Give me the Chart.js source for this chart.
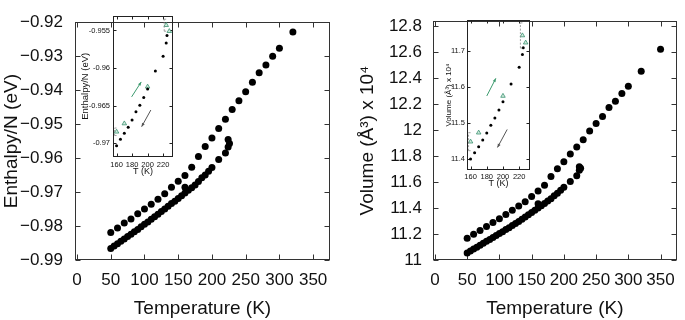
<!DOCTYPE html>
<html>
<head>
<meta charset="utf-8">
<script src="https://cdn.jsdelivr.net/npm/chart.js@4.4.1/dist/chart.umd.min.js"></script>
<style>
  body { margin: 0; background: #fff; }
  #wrap { position: relative; width: 685px; height: 320px; overflow: hidden; }
  canvas { position: absolute; }
</style>
</head>
<body>
<div id="wrap">
  <canvas id="hMain" width="345" height="320" style="left:0;top:0"></canvas>
  <canvas id="vMain" width="340" height="320" style="left:345px;top:0"></canvas>
  <canvas id="hInset" width="100" height="170" style="left:78px;top:8px"></canvas>
  <canvas id="vInset" width="95" height="178" style="left:440px;top:12px"></canvas>
</div>
<script>
// ---- data ----
const tempUp = [50,60,70,80,90,100,110,120,130,140,150,160,170,180,190,200,210,220,230,240,250,260,270,280,290,300,320];
const enthUp = [-0.9819,-0.9806,-0.9791,-0.9779,-0.9764,-0.9750,-0.9736,-0.9721,-0.9705,-0.9686,-0.9668,-0.9651,-0.9627,-0.9595,-0.9566,-0.9541,-0.9513,-0.9486,-0.9457,-0.9431,-0.9405,-0.9377,-0.9349,-0.9326,-0.9300,-0.9277,-0.9229];

const tempDown = [50,55,60,65,70,75,80,85,90,95,100,105,110,115,120,125,130,135,140,145,150,155,160,165,170,175,180,185,190,195,200,210,220,224,226,224];
const enthDown = [-0.9866,-0.9859,-0.9852,-0.9845,-0.9838,-0.9831,-0.9824,-0.9817,-0.9810,-0.9802,-0.9795,-0.9788,-0.9780,-0.9773,-0.9765,-0.9757,-0.9750,-0.9742,-0.9734,-0.9727,-0.9719,-0.9711,-0.9703,-0.9695,-0.9687,-0.9679,-0.9669,-0.9658,-0.9650,-0.9639,-0.9628,-0.9604,-0.9585,-0.9567,-0.9557,-0.9545];

const tempExtra = [160];
const enthExtra = [-0.9686];
const volExtra = [11.432];

const tempUpV = [50,60,70,80,90,100,110,120,130,140,150,160,170,180,190,200,210,220,230,240,250,260,270,280,290,300,320,350];
const volUp = [11.168,11.198,11.227,11.257,11.289,11.318,11.350,11.383,11.415,11.449,11.489,11.531,11.575,11.642,11.701,11.755,11.815,11.870,11.926,11.993,12.050,12.104,12.173,12.222,12.281,12.336,12.452,12.622];
const volDown = [11.054,11.069,11.084,11.099,11.114,11.129,11.144,11.158,11.173,11.188,11.203,11.218,11.234,11.249,11.265,11.281,11.297,11.314,11.331,11.348,11.365,11.382,11.400,11.417,11.434,11.453,11.472,11.494,11.514,11.536,11.559,11.604,11.648,11.690,11.705,11.718];

// insets
const insetT = [160,165,170,175,180,185,190,195,200,210,220,224,225];
const enthIn = [-0.97035,-0.9695,-0.9687,-0.9679,-0.96694,-0.96584,-0.96495,-0.96393,-0.96279,-0.9604,-0.95845,-0.95668,-0.95566];
const volIn = [11.400,11.4175,11.434,11.453,11.472,11.494,11.514,11.536,11.559,11.608,11.655,11.690,11.709];
const triT = [160,170,200,224,228];
const enthTri = [-0.9685,-0.9674,-0.9625,-0.9543,-0.9551];
const enthTriErr = [0.0005,0,0,0.0008,0];
const volTri = [11.448,11.473,11.575,11.743,11.723];
const volTriErr = [0.025,0,0,0.035,0];

// arrows: [x0, y0, x1, y1] with the head at the second point
const enthArrowUp = [179.4,-0.96385,191.8,-0.96186];
const enthArrowDown = [204.2,-0.9656,192.3,-0.96782];
const volArrowUp = [180,11.575,191.2,11.624];
const volArrowDown = [205.2,11.482,193.2,11.432];

const mainTicksX = [0,50,100,150,200,250,300,350];
const enthTicksY = [-0.99,-0.98,-0.97,-0.96,-0.95,-0.94,-0.93,-0.92];
const volTicksY = [11,11.2,11.4,11.6,11.8,12,12.2,12.4,12.6,12.8];
const insetTicksX = [160,180,200,220];
const enthInTicksY = [-0.97,-0.965,-0.96,-0.955];
const volInTicksY = [11.4,11.5,11.6,11.7];

// ---- drawing ----
const SANS = "'Liberation Sans', Arial, sans-serif";
let NARROW = "'Liberation Sans Narrow', 'Liberation Sans', Arial, sans-serif";
// the tick labels in the figure are condensed; fall back to a smaller size if no narrow face
const probe = document.createElement('canvas').getContext('2d');
probe.font = "40px 'Liberation Sans Narrow', monospace";
const wN = probe.measureText('0.92350').width;
probe.font = "40px monospace";
const hasNarrow = Math.abs(wN - probe.measureText('0.92350').width) > 1;
const mainTick = hasNarrow ? 19 : 17;
const insetTick = hasNarrow ? 8.5 : 7.5;
Chart.defaults.color = '#111';

const pts = (xs, ys) => xs.map((x, i) => ({x: x, y: ys[i]}));
const minus = v => String(v).replace('-', '\u2212');

const framePlugin = {
  id: 'frame',
  beforeDatasetsDraw(chart, args, o) {
    const {ctx, chartArea: a, scales: {x, y}} = chart;
    const L = Math.round(a.left) + 0.5, R = Math.round(a.right) - 0.5;
    const T = Math.round(a.top) + 0.5, B = Math.round(a.bottom) - 0.5;
    ctx.save();
    ctx.strokeStyle = o.color;
    ctx.lineWidth = 1;
    ctx.strokeRect(L, T, R - L, B - T);
    ctx.beginPath();
    x.ticks.forEach(t => {
      const p = Math.round(x.getPixelForValue(t.value)) + 0.5;
      ctx.moveTo(p, B); ctx.lineTo(p, B - o.len);
      ctx.moveTo(p, T); ctx.lineTo(p, T + o.len);
    });
    y.ticks.forEach(t => {
      const p = Math.round(y.getPixelForValue(t.value)) + 0.5;
      ctx.moveTo(L, p); ctx.lineTo(L + o.len, p);
      ctx.moveTo(R, p); ctx.lineTo(R - o.len, p);
    });
    ctx.stroke();
    ctx.restore();
  },
  afterDatasetsDraw(chart, args, o) {
    const {ctx, scales: {x, y}} = chart;
    ctx.save();
    (o.errors || []).forEach(e => {
      e.xs.forEach((xv, i) => {
        if (!e.err[i]) return;
        const px = x.getPixelForValue(xv) - 2;
        const y0 = y.getPixelForValue(e.ys[i] - e.err[i]);
        const y1 = y.getPixelForValue(e.ys[i] + e.err[i]);
        ctx.strokeStyle = '#888';
        ctx.lineWidth = 0.8;
        ctx.setLineDash([2, 1.5]);
        ctx.beginPath();
        ctx.moveTo(px, y0); ctx.lineTo(px, y1);
        ctx.moveTo(px, y0); ctx.lineTo(px + 3, y0);
        ctx.moveTo(px, y1); ctx.lineTo(px + 3, y1);
        ctx.stroke();
      });
    });
    ctx.setLineDash([]);
    (o.arrows || []).forEach(ar => {
      const x0 = x.getPixelForValue(ar.p[0]), y0 = y.getPixelForValue(ar.p[1]);
      const x1 = x.getPixelForValue(ar.p[2]), y1 = y.getPixelForValue(ar.p[3]);
      const ang = Math.atan2(y1 - y0, x1 - x0);
      ctx.strokeStyle = ar.color;
      ctx.fillStyle = ar.color;
      ctx.lineWidth = 1;
      ctx.beginPath();
      ctx.moveTo(x0, y0); ctx.lineTo(x1, y1);
      ctx.stroke();
      ctx.beginPath();
      ctx.moveTo(x1, y1);
      ctx.lineTo(x1 - 4 * Math.cos(ang - 0.4), y1 - 4 * Math.sin(ang - 0.4));
      ctx.lineTo(x1 - 4 * Math.cos(ang + 0.4), y1 - 4 * Math.sin(ang + 0.4));
      ctx.closePath();
      ctx.fill();
    });
    ctx.restore();
  }
};

function axis(o) {
  return {
    type: 'linear',
    position: o.pos,
    min: o.min,
    max: o.max,
    grid: {display: false, drawTicks: false},
    border: {display: false},
    afterBuildTicks: s => { s.ticks = o.ticks.map(v => ({value: v})); },
    afterFit: s => { if (o.pos === 'left') s.width = o.size; else s.height = o.size; },
    ticks: {
      padding: o.pad,
      autoSkip: false,
      maxRotation: 0,
      minRotation: 0,
      font: {family: NARROW, size: o.tickSize},
      color: '#111',
      callback: o.fmt
    },
    title: {
      display: true,
      text: o.title,
      font: {family: SANS, size: o.titleSize},
      color: '#111',
      padding: o.titlePad
    }
  };
}

function baseOpts(padding, xAx, yAx, frame) {
  return {
    responsive: false,
    animation: false,
    devicePixelRatio: 1,
    layout: {padding: padding},
    plugins: {legend: {display: false}, tooltip: {enabled: false}, frame: frame},
    scales: {x: xAx, y: yAx}
  };
}

const dot = (data, r) => ({data: data, pointRadius: r, pointBackgroundColor: '#000', pointBorderWidth: 0, showLine: false, clip: false});
const tri = data => ({data: data, pointStyle: 'triangle', pointRadius: 2.6, pointBackgroundColor: '#d4ece0', pointBorderColor: '#3a9270', pointBorderWidth: 0.8, showLine: false, clip: false});

// enthalpy main
new Chart(document.getElementById('hMain'), {
  type: 'scatter',
  data: {datasets: [dot(pts(tempUp, enthUp), 3.5), dot(pts(tempDown, enthDown), 3.5), dot(pts(tempExtra, enthExtra), 3.5)]},
  options: baseOpts({top: 6, right: 15, left: 0, bottom: 0},
    axis({pos: 'bottom', min: -3, max: 375, ticks: mainTicksX, size: 60, pad: 10, tickSize: mainTick, titleSize: 19,
          title: 'Temperature (K)', titlePad: {top: 0, bottom: 0}, fmt: v => v}),
    axis({pos: 'left', min: -0.99, max: -0.92, ticks: enthTicksY, size: 75, pad: 12, tickSize: mainTick, titleSize: 19,
          title: 'Enthalpy/N (eV)', titlePad: {top: 0, bottom: 0}, fmt: v => minus(v.toFixed(2))}),
    {color: '#333', len: 5}),
  plugins: [framePlugin]
});

// volume main
new Chart(document.getElementById('vMain'), {
  type: 'scatter',
  data: {datasets: [dot(pts(tempUpV, volUp), 3.5), dot(pts(tempDown, volDown), 3.5), dot(pts(tempExtra, volExtra), 3.5)]},
  options: baseOpts({top: 12, right: 1, left: 0, bottom: 0},
    axis({pos: 'bottom', min: -3, max: 375, ticks: mainTicksX, size: 60, pad: 10, tickSize: mainTick, titleSize: 19,
          title: 'Temperature (K)', titlePad: {top: 0, bottom: 0}, fmt: v => v}),
    axis({pos: 'left', min: 11, max: 12.837, ticks: volTicksY, size: 88, pad: 11, tickSize: mainTick, titleSize: 19,
          title: 'Volume (\u00c5\u00b3) x 10\u2074', titlePad: {top: 11, bottom: 0}, fmt: v => String(Math.round(v * 10) / 10)}),
    {color: '#333', len: 5}),
  plugins: [framePlugin]
});

// enthalpy inset
new Chart(document.getElementById('hInset'), {
  type: 'scatter',
  data: {datasets: [dot(pts(insetT, enthIn), 1.5), tri(pts(triT, enthTri))]},
  options: baseOpts({top: 7, right: 2.5, left: 0, bottom: 0},
    axis({pos: 'bottom', min: 155.4, max: 233, ticks: insetTicksX, size: 21, pad: 3, tickSize: insetTick, titleSize: 9,
          title: 'T (K)', titlePad: {top: 0, bottom: 0.6}, fmt: v => v}),
    axis({pos: 'left', min: -0.97186, max: -0.95301, ticks: enthInTicksY, size: 35, pad: 3, tickSize: insetTick, titleSize: 9.5,
          title: 'Enthalpy/N (eV)', titlePad: {top: 1.8, bottom: 0}, fmt: v => String(v)}),
    {color: '#222', len: 3,
     errors: [{xs: triT, ys: enthTri, err: enthTriErr}],
     arrows: [{p: enthArrowUp, color: '#3c9a6e'}, {p: enthArrowDown, color: '#555'}]}),
  plugins: [framePlugin]
});

// volume inset
new Chart(document.getElementById('vInset'), {
  type: 'scatter',
  data: {datasets: [dot(pts(insetT, volIn), 1.5), tri(pts(triT, volTri))]},
  options: baseOpts({top: 8, right: 3, left: 0, bottom: 0},
    axis({pos: 'bottom', min: 155.6, max: 233.6, ticks: insetTicksX, size: 20, pad: 2, tickSize: insetTick, titleSize: 9,
          title: 'T (K)', titlePad: {top: 0, bottom: 0.6}, fmt: v => v}),
    axis({pos: 'left', min: 11.3694, max: 11.786, ticks: volInTicksY, size: 27, pad: 2, tickSize: insetTick, titleSize: 8,
          title: 'Volume (\u00c5\u00b3) x 10\u2074', titlePad: {top: 4.2, bottom: 0}, fmt: v => v.toFixed(1)}),
    {color: '#222', len: 3,
     errors: [{xs: triT, ys: volTri, err: volTriErr}],
     arrows: [{p: volArrowUp, color: '#3c9a6e'}, {p: volArrowDown, color: '#555'}]}),
  plugins: [framePlugin]
});
</script>
</body>
</html>
